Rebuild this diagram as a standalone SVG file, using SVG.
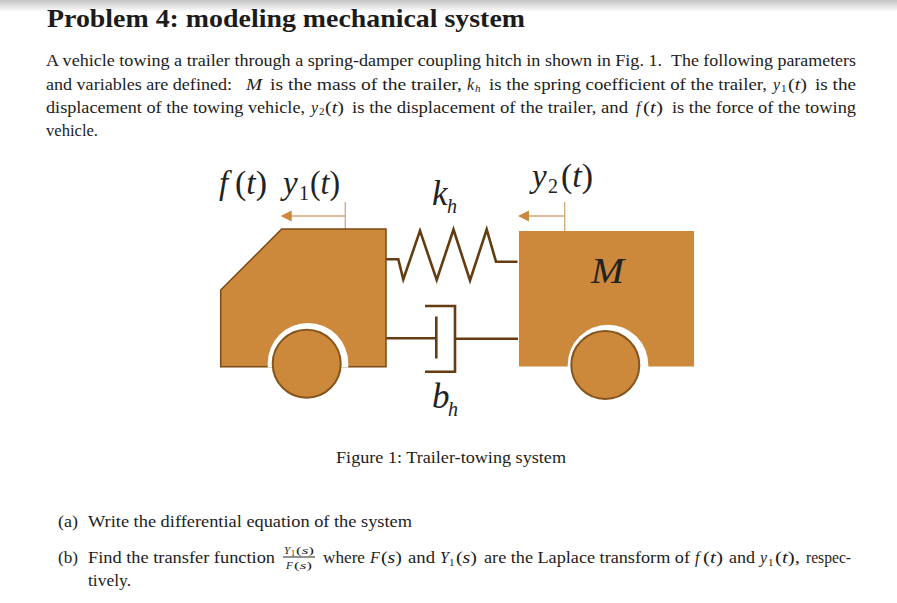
<svg xmlns="http://www.w3.org/2000/svg" width="897" height="603" viewBox="0 0 897 603">
<style>
text{font-family:"Liberation Serif","Times New Roman",serif;fill:#1c1c1c}
.b{font-size:16px}
.i{font-style:italic}
.s{font-size:11px}
.t{font-size:24.5px;font-weight:bold}
.m{font-size:33px;font-style:italic;fill:#222}
.mr{font-size:33px;fill:#222}
.ms{font-size:20px;font-style:italic;fill:#222}
.body{fill:#cc883b;stroke:#7a4a14;stroke-width:1.5}
.trailer{fill:#cc883b}
.wheel{fill:#cc883b;stroke:#85551c;stroke-width:2}
.link{fill:none;stroke:#633c12;stroke-width:2.6}
.dim{fill:none;stroke:#d0a878;stroke-width:1.3}
.head{fill:#cc883b}
</style>
<defs>
<linearGradient id="shade" x1="0" y1="0" x2="0" y2="1"><stop offset="0" stop-color="#c4c4c4"/><stop offset="1" stop-color="#fff"/></linearGradient>
</defs>
<rect width="897" height="603" fill="#fff"/>
<rect width="897" height="12" fill="url(#shade)"/>
<g id="question">
<text class="t" x="47" y="26.5" textLength="478" lengthAdjust="spacingAndGlyphs">Problem 4: modeling mechanical system</text>
<text class="b" x="46" y="66" textLength="616" lengthAdjust="spacingAndGlyphs">A vehicle towing a trailer through a spring-damper coupling hitch in shown in Fig. 1.</text>
<text class="b" x="671" y="66" textLength="185" lengthAdjust="spacingAndGlyphs">The following parameters</text>
<text class="b" x="46" y="89.5" textLength="186" lengthAdjust="spacingAndGlyphs">and variables are defined:</text>
<text class="b i" x="246" y="89.5" textLength="16" lengthAdjust="spacingAndGlyphs">M</text>
<text class="b" x="270" y="89.5" textLength="192" lengthAdjust="spacingAndGlyphs">is the mass of the trailer,</text>
<text class="b i" x="467" y="89.5">k</text><text class="s i" x="475" y="92">h</text>
<text class="b" x="489" y="89.5" textLength="278" lengthAdjust="spacingAndGlyphs">is the spring coefficient of the trailer,</text>
<text class="b i" x="773" y="89.5">y</text><text class="s" x="781" y="92">1</text><text class="b" x="788" y="89.5" textLength="19" lengthAdjust="spacingAndGlyphs">(<tspan class="i">t</tspan>)</text>
<text class="b" x="815" y="89.5" textLength="41" lengthAdjust="spacingAndGlyphs">is the</text>
<text class="b" x="46" y="112.7" textLength="259" lengthAdjust="spacingAndGlyphs">displacement of the towing vehicle,</text>
<text class="b i" x="311" y="112.7">y</text><text class="s" x="319" y="115">2</text><text class="b" x="325" y="112.7" textLength="19" lengthAdjust="spacingAndGlyphs">(<tspan class="i">t</tspan>)</text>
<text class="b" x="352" y="112.7" textLength="276" lengthAdjust="spacingAndGlyphs">is the displacement of the trailer, and</text>
<text class="b i" x="636" y="112.7">f</text><text class="b" x="643" y="112.7" textLength="20" lengthAdjust="spacingAndGlyphs">(<tspan class="i">t</tspan>)</text>
<text class="b" x="672" y="112.7" textLength="184" lengthAdjust="spacingAndGlyphs">is the force of the towing</text>
<text class="b" x="46" y="135.5" textLength="52" lengthAdjust="spacingAndGlyphs">vehicle.</text>
</g>
<g id="connectors">
<path id="spring" class="link" d="M386 259.3H398.3L403.3 279.5L420 230.7L436.7 280L453.5 229.5L470 280.5L486.7 229.5L496 261.7H517.5"/>
<path id="damper-rod-left" class="link" d="M386 338.3H436"/>
<path id="damper-plate" class="link" d="M436.3 316.5V358.5"/>
<path id="damper-cylinder" class="link" d="M425 306H455V371.7H425"/>
<path id="damper-rod-right" class="link" d="M455 338.7H518"/>
<path id="y1-arrow" class="dim" d="M345.3 202V229M345.3 216H291"/>
<path class="head" d="M280.7 216L291.7 210.5V221.5Z"/>
<path id="y2-arrow" class="dim" d="M564.7 202V231M564.7 216H528"/>
<path class="head" d="M518 216L529 210.5V221.5Z"/>
</g>
<g id="vehicle">
<path class="body" d="M281.7 229H386V366.7H220.7V290Z"/>
<path d="M267.7 367.5V363.3A40.3 40.3 0 0 1 348.3 363.3V367.5Z" fill="#fff"/>
<circle class="wheel" cx="306.7" cy="363.7" r="34"/>
</g>
<g id="trailer">
<rect class="trailer" x="519" y="231" width="175" height="135.5"/>
<path d="M567.7 367V365A40.3 40.3 0 0 1 648.3 365V367Z" fill="#fff"/>
<circle class="wheel" cx="605.3" cy="365" r="34"/>
<text class="m" x="591" y="283" style="font-size:35px" textLength="33" lengthAdjust="spacingAndGlyphs">M</text>
</g>
<g id="labels">
<text class="m" x="219" y="194">f</text><text class="mr" x="235" y="194" textLength="32" lengthAdjust="spacingAndGlyphs">(<tspan class="i">t</tspan>)</text>
<text class="m" x="283" y="194">y</text><text class="ms" x="299" y="200" style="font-style:normal">1</text><text class="mr" x="310" y="194" textLength="30" lengthAdjust="spacingAndGlyphs">(<tspan class="i">t</tspan>)</text>
<text class="m" x="532" y="187">y</text><text class="ms" x="548" y="193" style="font-style:normal">2</text><text class="mr" x="561" y="187" textLength="32" lengthAdjust="spacingAndGlyphs">(<tspan class="i">t</tspan>)</text>
<text class="m" x="432" y="205" style="font-size:35px">k</text><text class="ms" x="447" y="213">h</text>
<text class="m" x="432" y="408" style="font-size:35px">b</text><text class="ms" x="448" y="416">h</text>
</g>
<g id="caption">
<text class="b" x="336" y="463" textLength="230" lengthAdjust="spacingAndGlyphs">Figure 1: Trailer-towing system</text>
</g>
<g id="parts">
<text class="b" x="58" y="526.7" textLength="20" lengthAdjust="spacingAndGlyphs">(a)</text>
<text class="b" x="88" y="526.7" textLength="324" lengthAdjust="spacingAndGlyphs">Write the differential equation of the system</text>
<text class="b" x="58" y="563" textLength="20" lengthAdjust="spacingAndGlyphs">(b)</text>
<text class="b" x="88" y="563" textLength="187" lengthAdjust="spacingAndGlyphs">Find the transfer function</text>
<text class="s i" x="284" y="554">Y</text><text style="font-size:8px" x="291" y="556">1</text><text class="s" x="296" y="554" textLength="18" lengthAdjust="spacingAndGlyphs">(<tspan class="i">s</tspan>)</text>
<path d="M283 557H315" stroke="#222" stroke-width="1" fill="none"/>
<text class="s i" x="286" y="569">F</text><text class="s" x="294" y="569" textLength="18" lengthAdjust="spacingAndGlyphs">(<tspan class="i">s</tspan>)</text>
<text class="b" x="323" y="563" textLength="42" lengthAdjust="spacingAndGlyphs">where</text>
<text class="b i" x="370" y="563">F</text><text class="b" x="381" y="563" textLength="21" lengthAdjust="spacingAndGlyphs">(<tspan class="i">s</tspan>)</text>
<text class="b" x="408" y="563" textLength="27" lengthAdjust="spacingAndGlyphs">and</text>
<text class="b i" x="440" y="563">Y</text><text class="s" x="449" y="565.5">1</text><text class="b" x="456" y="563" textLength="21" lengthAdjust="spacingAndGlyphs">(<tspan class="i">s</tspan>)</text>
<text class="b" x="484" y="563" textLength="206" lengthAdjust="spacingAndGlyphs">are the Laplace transform of</text>
<text class="b i" x="695" y="563">f</text><text class="b" x="703" y="563" textLength="20" lengthAdjust="spacingAndGlyphs">(<tspan class="i">t</tspan>)</text>
<text class="b" x="729" y="563" textLength="26" lengthAdjust="spacingAndGlyphs">and</text>
<text class="b i" x="760" y="563">y</text><text class="s" x="768" y="565.5">1</text><text class="b" x="775" y="563" textLength="25" lengthAdjust="spacingAndGlyphs">(<tspan class="i">t</tspan>),</text>
<text class="b" x="806" y="563" textLength="45" lengthAdjust="spacingAndGlyphs">respec-</text>
<text class="b" x="88" y="586" textLength="43" lengthAdjust="spacingAndGlyphs">tively.</text>
</g>
</svg>
